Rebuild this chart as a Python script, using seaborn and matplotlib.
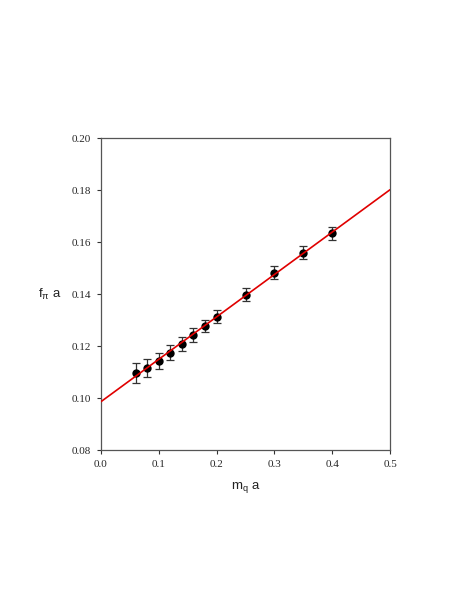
import numpy as np
import pandas as pd
import matplotlib
matplotlib.use("Agg")
import matplotlib.pyplot as plt
import seaborn as sns

# data
mq = [0.06, 0.08, 0.10, 0.12, 0.14, 0.16, 0.18, 0.20, 0.25, 0.30, 0.35, 0.40]
fpi = [0.1096, 0.1114, 0.1142, 0.1174, 0.1208, 0.1243, 0.1277, 0.1313, 0.1398, 0.1482, 0.1559, 0.1633]
err = [0.0038, 0.0035, 0.0030, 0.0028, 0.0026, 0.0026, 0.0024, 0.0025, 0.0024, 0.0024, 0.0024, 0.0025]
fit_intercept = 0.0986
fit_slope = 0.163
fit_x = [0.0, 0.5]
xticks = [0.0, 0.1, 0.2, 0.3, 0.4, 0.5]
yticks = [0.08, 0.10, 0.12, 0.14, 0.16, 0.18, 0.20]

sns.set_theme(style="white")
plt.rcParams["mathtext.fontset"] = "custom"
plt.rcParams["mathtext.rm"] = "Liberation Sans"
plt.rcParams["mathtext.it"] = "Liberation Sans"

df = pd.DataFrame({"mq": mq, "fpi": fpi, "err": err})
fit_df = pd.DataFrame({"x": fit_x, "y": [fit_intercept + fit_slope * v for v in fit_x]})

fig = plt.figure(figsize=(4.74, 6.05), dpi=100)
ax = fig.add_axes([101 / 474, 155 / 605, 289 / 474, 312 / 605])

ax.errorbar(df["mq"], df["fpi"], yerr=df["err"], fmt="none", ecolor="#333333",
            elinewidth=0.9, capsize=3, capthick=0.9, zorder=2)
sns.scatterplot(data=df, x="mq", y="fpi", ax=ax, color="black", s=36,
                edgecolor="black", linewidth=0, zorder=3)
sns.lineplot(data=fit_df, x="x", y="y", ax=ax, color="#e00000", linewidth=1.2, zorder=4)

ax.set_xlim(0, 0.5)
ax.set_ylim(0.08, 0.20)
ax.set_xticks(xticks)
ax.set_yticks(yticks)
ax.set_xticklabels([f"{v:.1f}" for v in xticks], fontfamily="Liberation Serif", fontsize=8)
ax.set_yticklabels([f"{v:.2f}" for v in yticks], fontfamily="Liberation Serif", fontsize=8)
ax.tick_params(axis="both", which="both", direction="out", length=3, width=0.8,
               color="#333333", pad=4, bottom=True, left=True, top=False, right=False)
for s in ax.spines.values():
    s.set_color("#555555")
    s.set_linewidth(0.9)

ax.set_xlabel(r"$\mathregular{m_q}$ a", fontsize=9.5, color="#222222", fontfamily="Liberation Sans")
ax.set_ylabel(r"$\mathregular{f_\pi}$ a", fontsize=9.5, rotation=0, color="#222222", fontfamily="Liberation Sans")
ax.xaxis.set_label_coords(0.5, -0.12)
ax.yaxis.set_label_coords(-0.176, 0.5)
ax.yaxis.label.set_verticalalignment("center")
ax.yaxis.label.set_horizontalalignment("center")
ax.xaxis.label.set_verticalalignment("center")

fig.savefig("out.png", dpi=100, facecolor="white")
